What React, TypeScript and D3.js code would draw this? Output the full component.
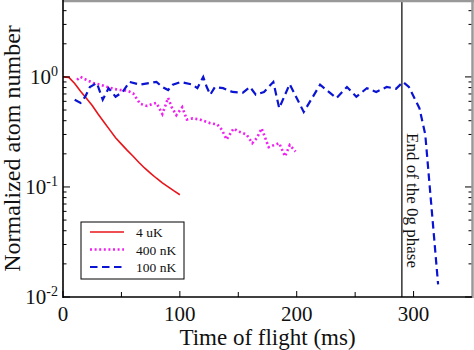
import React from 'react';
import * as d3 from 'd3';

// 4 uK (red, solid)
const warmTime = [0, 5, 10, 15, 20, 25, 30, 35, 40, 45, 50, 55, 60, 65, 70, 75, 80, 85, 90, 95, 100];
const warmValue = [1.0, 0.99, 0.87, 0.74, 0.64, 0.55, 0.46, 0.39, 0.33, 0.28, 0.245, 0.215, 0.19, 0.167, 0.148, 0.133, 0.12, 0.109, 0.1, 0.092, 0.085];

// 400 nK (magenta, dotted)
const midTime = [12, 15, 20, 26, 32, 38, 43, 49, 55, 60, 66, 72, 77, 80, 85, 90, 93, 97, 102, 106, 111, 117, 126, 132, 136, 140, 146, 150, 157, 162, 166, 170, 176, 185, 190, 194, 199];
const midValue = [0.94, 1.0, 0.94, 0.88, 0.85, 0.81, 0.78, 0.76, 0.75, 0.71, 0.57, 0.545, 0.57, 0.58, 0.46, 0.645, 0.53, 0.45, 0.53, 0.41, 0.42, 0.41, 0.38, 0.37, 0.33, 0.27, 0.34, 0.32, 0.3, 0.25, 0.28, 0.34, 0.23, 0.25, 0.19, 0.24, 0.21];

// 100 nK (blue, dashed)
const coldTime = [10, 15, 19, 23, 29, 34, 39, 45, 51, 57, 66, 74, 80, 85, 90, 94, 101, 111, 115, 120, 123, 126, 130, 137, 145, 154, 160, 165, 172, 180, 185, 194, 206, 220, 234, 243, 251, 260, 268, 277, 285, 291, 296, 305, 310, 321];
const coldValue = [0.62, 0.58, 0.66, 0.81, 0.88, 0.62, 0.79, 0.66, 0.73, 0.9, 0.85, 0.88, 0.9, 0.81, 0.76, 0.85, 0.9, 0.85, 0.79, 1.0, 0.81, 0.69, 0.81, 0.79, 0.73, 0.72, 0.81, 0.69, 0.73, 0.9, 0.52, 0.86, 0.48, 0.85, 0.64, 0.81, 0.66, 0.79, 0.73, 0.81, 0.78, 0.9, 0.81, 0.52, 0.3, 0.013];

const xTicks = [0, 100, 200, 300];
const xMinorTicks = [50, 150, 250];
const yDecades = [-2, -1, 0];
const phaseEnd = 290;

const legendLabels = ['4 uK', '400 nK', '100 nK'];

const W = 474;
const H = 350;
const left = 63;
const right = 472;
const top = 0;
const bottom = 297;
const serif = '"Liberation Serif", "DejaVu Serif", serif';

export default function App() {
  const x = d3.scaleLinear().domain([0, 350]).range([left, right]);
  const y = d3.scaleLog().domain([0.01, 5]).range([bottom, top]);

  const line = d3
    .line<[number, number]>()
    .x(d => x(d[0]))
    .y(d => y(d[1]));

  const zip = (t: number[], v: number[]) => t.map((tt, i) => [tt, v[i]] as [number, number]);

  const series = [
    { data: zip(warmTime, warmValue), color: '#e8141a', width: 1.6, dash: undefined as string | undefined },
    { data: zip(midTime, midValue), color: '#f020f0', width: 2.6, dash: '2,2.6' },
    { data: zip(coldTime, coldValue), color: '#0a14d2', width: 2.2, dash: '7.5,4.5' },
  ];

  const minorY: number[] = [];
  yDecades.forEach(k => {
    for (let m = 2; m <= 9; m++) {
      const v = m * Math.pow(10, k);
      if (v <= 5) minorY.push(v);
    }
  });

  return (
    <svg
      width={W}
      height={H}
      style={{ position: 'fixed', left: 0, top: 0, background: '#fff' }}
      fontFamily={serif}
    >
      <rect x={0} y={0} width={W} height={H} fill="#fff" />

      {/* curves */}
      <g fill="none">
        {series.map((s, i) => (
          <path key={i} d={line(s.data) || ''} stroke={s.color} strokeWidth={s.width} strokeDasharray={s.dash} />
        ))}
      </g>

      {/* end of 0g phase */}
      <line x1={x(phaseEnd)} x2={x(phaseEnd)} y1={top} y2={bottom} stroke="#000" strokeWidth={1.2} />
      <text
        transform={`translate(${x(phaseEnd) + 5},${133}) rotate(90)`}
        fontSize={17}
        fill="#111"
      >
        End of the 0g phase
      </text>

      {/* ticks */}
      <g stroke="#000" strokeWidth={1}>
        {xTicks.map(t => (
          <line key={'xt' + t} x1={x(t)} x2={x(t)} y1={bottom} y2={bottom - 6} />
        ))}
        {xMinorTicks.map(t => (
          <line key={'xm' + t} x1={x(t)} x2={x(t)} y1={bottom} y2={bottom - 5} />
        ))}
        {yDecades.map(k => (
          <g key={'yd' + k}>
            <line x1={left} x2={left + 7} y1={y(Math.pow(10, k))} y2={y(Math.pow(10, k))} />
            <line x1={right} x2={right - 7} y1={y(Math.pow(10, k))} y2={y(Math.pow(10, k))} />
          </g>
        ))}
        {minorY.map(v => (
          <g key={'ym' + v}>
            <line x1={left} x2={left + 3.5} y1={y(v)} y2={y(v)} />
            <line x1={right} x2={right - 3.5} y1={y(v)} y2={y(v)} />
          </g>
        ))}
      </g>

      {/* frame */}
      <line x1={left} x2={right + 2} y1={1} y2={1} stroke="#999" strokeWidth={2.5} />
      <line x1={right + 0.5} x2={right + 0.5} y1={0} y2={bottom + 1} stroke="#999" strokeWidth={2.5} />
      <line x1={left} x2={left} y1={0} y2={bottom + 1} stroke="#000" strokeWidth={1.6} />
      <line x1={left} x2={right} y1={bottom} y2={bottom} stroke="#000" strokeWidth={1.6} />

      {/* tick labels */}
      <g fontSize={21} fill="#111">
        {xTicks.map(t => (
          <text key={'xl' + t} x={x(t)} y={321} textAnchor="middle">
            {t}
          </text>
        ))}
        {yDecades.map(k => (
          <text key={'yl' + k} x={58} y={y(Math.pow(10, k)) + 7} textAnchor="end">
            10
            <tspan fontSize={14} dy={-8}>
              {k}
            </tspan>
          </text>
        ))}
      </g>

      {/* axis labels */}
      <text x={(left + right) / 2} y={345} textAnchor="middle" fontSize={23} fill="#111">
        Time of flight (ms)
      </text>
      <text
        transform={`translate(20,${(top + bottom) / 2}) rotate(-90)`}
        textAnchor="middle"
        fontSize={24}
        fill="#111"
      >
        Normalized atom number
      </text>

      {/* legend */}
      <g>
        <rect x={81} y={222} width={103} height={57} fill="#fff" stroke="#000" strokeWidth={1} />
        {series.map((s, i) => (
          <g key={'lg' + i} transform={`translate(90,${232 + i * 17.5})`}>
            <line x1={0} x2={34} y1={0} y2={0} stroke={s.color} strokeWidth={s.width} strokeDasharray={s.dash} />
            <text x={46} y={5} fontSize={13.5} fill="#111">
              {legendLabels[i]}
            </text>
          </g>
        ))}
      </g>
    </svg>
  );
}
